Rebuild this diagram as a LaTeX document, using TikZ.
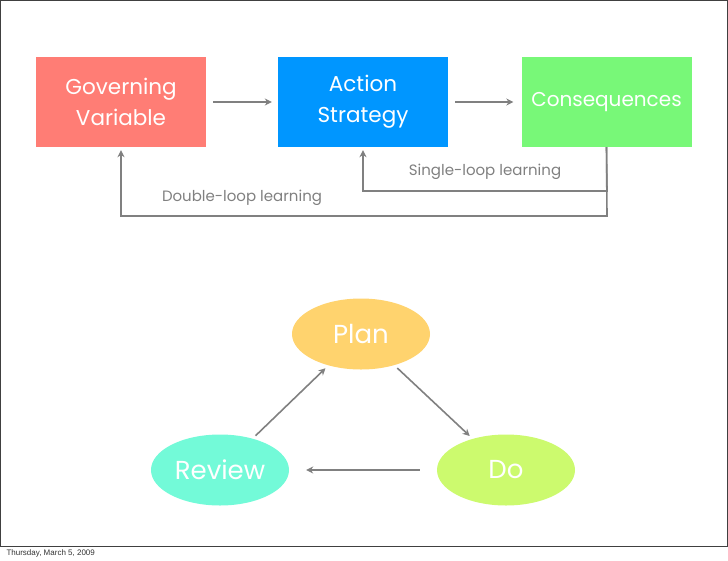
\documentclass[tikz,border=0pt]{standalone}
\usepackage{fontspec}
\setmainfont{Poppins}
\newfontfamily\footfont{Liberation Sans}
\usetikzlibrary{arrows.meta,shapes.geometric}
\definecolor{govred}{HTML}{FF7D75}
\definecolor{actblue}{HTML}{0096FF}
\definecolor{congreen}{HTML}{78F878}
\definecolor{planyel}{HTML}{FFD36E}
\definecolor{revcyan}{HTML}{73FAD8}
\definecolor{dolime}{HTML}{CCFA6E}
\definecolor{linegray}{HTML}{808080}
\tikzset{
  boxnode/.style={minimum width=170pt, minimum height=90pt, text=white, align=center, font=\fontsize{21.5}{31}\selectfont},
  cyclenode/.style={ellipse, minimum width=138pt, minimum height=71pt, text=white, font=\fontsize{26}{30}\selectfont},
  flow/.style={draw=linegray, line width=1.6pt, -{Stealth[length=7pt,width=7pt]}},
  looplabel/.style={text=linegray, font=\fontsize{15}{18}\selectfont}
}
\begin{document}
\begin{tikzpicture}[x=1pt,y=-1pt]
		\useasboundingbox (0,0) rectangle (728,560);
		% Rahmen
		\draw[black!75, line width=1pt] (0.5,0.5) rectangle (727.5,546);
		\node[anchor=west, font=\footfont\fontsize{8}{10}\selectfont, text=black!80] (date) at (3,553) {Thursday, March 5, 2009};

		% Kaesten
		\node[boxnode, fill=govred] (gov) at (121,102) {Governing\\Variable};
		\node[boxnode, fill=actblue] (act) at (363,102) {Action\\Strategy};
		\node[boxnode, fill=congreen, font=\fontsize{20}{24}\selectfont] (con) at (606.5,102) {Consequences};

		\draw[flow] ([xshift=7pt]gov.east) -- ([xshift=-6pt]act.west);
		\draw[flow] ([xshift=7pt]act.east) -- ([xshift=-8pt]con.west);

		% Schleifen
		\coordinate (sl) at (607,191);
		\coordinate (dl) at (607,216);
		\draw[flow] (con.south) -- (sl) -| ([yshift=-3pt]act.south);
		\draw[flow] (con.south) -- (dl) -| ([yshift=-3pt]gov.south);
		\node[looplabel] (single) at (485,172) {Single-loop learning};
		\node[looplabel] (double) at (242,198) {Double-loop learning};

		% Zyklus
		\node[cyclenode, fill=planyel] (plan) at (361,334) {Plan};
		\node[cyclenode, fill=dolime] (do) at (506,470) {Do};
		\node[cyclenode, fill=revcyan] (review) at (220,470) {Review};

		\draw[flow, shorten <=4pt, shorten >=4pt] (plan) -- (do);
		\draw[flow, shorten <=17pt, shorten >=17pt] (do) -- (review);
		\draw[flow, shorten <=4pt, shorten >=4pt] (review) -- (plan);
	\end{tikzpicture}
\end{document}
